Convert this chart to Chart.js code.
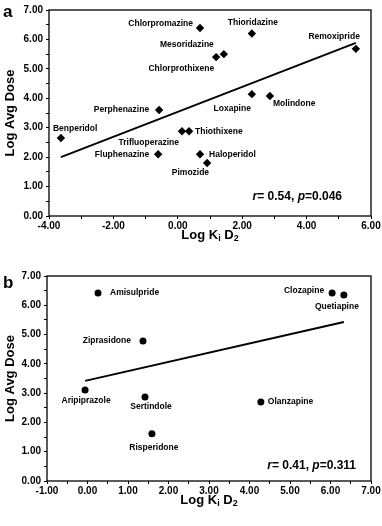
<!DOCTYPE html>
<html lang="en">
<head>
<meta charset="UTF-8">
<title>Log Avg Dose vs Log Ki D2</title>
<script src="https://cdn.jsdelivr.net/npm/chart.js@4.4.0/dist/chart.umd.min.js"></script>
<style>
  html, body { margin: 0; padding: 0; background: #fff; }
  .panel { position: absolute; left: 0; width: 382px; }
  #panelA { top: 0; height: 258px; }
  #panelB { top: 258px; height: 268px; }
</style>
</head>
<body>
<div class="panel" id="panelA"><canvas id="chartA" width="382" height="258"></canvas></div>
<div class="panel" id="panelB"><canvas id="chartB" width="382" height="268"></canvas></div>
<script>
// panel a - typical antipsychotics
const drugsA = ['Chlorpromazine', 'Thioridazine', 'Remoxipride', 'Chlorprothixene', 'Mesoridazine',
                'Loxapine', 'Molindone', 'Perphenazine', 'Benperidol', 'Trifluoperazine',
                'Thiothixene', 'Fluphenazine', 'Haloperidol', 'Pimozide'];
const kiA   = [0.69, 2.30, 5.53, 1.19, 1.43, 2.30, 2.86, -0.58, -3.63, 0.13, 0.35, -0.61, 0.69, 0.91];
const doseA = [6.39, 6.20, 5.68, 5.40, 5.50, 4.14, 4.08, 3.60, 2.65, 2.88, 2.88, 2.10, 2.10, 1.80];
const fitKiA   = [-3.63, 5.53];
const fitDoseA = [2.00, 5.88];
const statA = ['0.54', '0.046'];
const xTicksA = [-4, 6, 1];   // min, max, step

// panel b - atypical antipsychotics
const drugsB = ['Amisulpride', 'Clozapine', 'Quetiapine', 'Ziprasidone', 'Aripiprazole',
                'Sertindole', 'Olanzapine', 'Risperidone'];
const kiB   = [0.26, 6.04, 6.33, 1.37, -0.06, 1.42, 4.28, 1.59];
const doseB = [6.42, 6.42, 6.35, 4.78, 3.11, 2.87, 2.70, 1.61];
const fitKiB   = [-0.06, 6.33];
const fitDoseB = [3.42, 5.43];
const statB = ['0.41', '0.311'];
const xTicksB = [-1, 7, 0.5];

// where each name sits next to its marker (anchor, dx, dy in px)
const placeA = [['right', -7, -4], ['center', 1, -11], ['right', 4, -12], ['right', -2, 12], ['right', -10, -9],
                ['right', -1, 14], ['left', 3, 8], ['right', -10, 0], ['left', -8, -9], ['right', -3, 11],
                ['left', 6, 0], ['right', -9, 0], ['left', 9, 0], ['right', 2, 10]];
const placeB = [['left', 12, 0], ['right', -8, -2], ['right', 15, 12], ['right', -12, 0],
                ['center', 1, 11], ['center', 6, 10], ['left', 7, 0], ['center', 2, 14]];

const FONT = '"Liberation Sans", Arial, Helvetica, sans-serif';

const panelPlugin = {
  id: 'panelDeco',
  afterDatasetsDraw(chart, args, opts) {
    const ctx = chart.ctx;
    const area = chart.chartArea;
    const xs = chart.scales.x, ys = chart.scales.y;
    ctx.save();
    // frame
    ctx.strokeStyle = '#000';
    ctx.lineWidth = 1.3;
    ctx.strokeRect(area.left, area.top, area.right - area.left, area.bottom - area.top);

    // drug names
    ctx.fillStyle = '#000';
    ctx.font = 'bold 8.5px ' + FONT;
    ctx.textBaseline = 'middle';
    opts.names.forEach((name, i) => {
      const p = opts.place[i];
      ctx.textAlign = p[0];
      ctx.fillText(name, xs.getPixelForValue(opts.xv[i]) + p[1], ys.getPixelForValue(opts.yv[i]) + p[2]);
    });

    // r / p annotation
    const parts = [['r', true], ['= ' + opts.stat[0] + ', ', false], ['p', true], ['=' + opts.stat[1], false]];
    let w = 0;
    parts.forEach(pt => {
      ctx.font = (pt[1] ? 'italic ' : '') + 'bold 12px ' + FONT;
      w += ctx.measureText(pt[0]).width;
    });
    let x = area.right - opts.statRight - w;
    const y = area.bottom - opts.statUp;
    ctx.textAlign = 'left';
    parts.forEach(pt => {
      ctx.font = (pt[1] ? 'italic ' : '') + 'bold 12px ' + FONT;
      ctx.fillText(pt[0], x, y);
      x += ctx.measureText(pt[0]).width;
    });

    // x title: Log Ki D2 with subscripts
    const big = 'bold 13px ' + FONT, small = 'bold 9px ' + FONT;
    const tparts = [['Log K', big, 0], ['i', small, 4], [' D', big, 0], ['2', small, 4]];
    w = 0;
    tparts.forEach(pt => { ctx.font = pt[1]; w += ctx.measureText(pt[0]).width; });
    x = (area.left + area.right) / 2 - w / 2;
    const ty = area.bottom + 19;
    tparts.forEach(pt => {
      ctx.font = pt[1];
      ctx.fillText(pt[0], x, ty + pt[2]);
      x += ctx.measureText(pt[0]).width;
    });

    // y title
    ctx.save();
    ctx.translate(10, (area.top + area.bottom) / 2);
    ctx.rotate(-Math.PI / 2);
    ctx.textAlign = 'center';
    ctx.font = big;
    ctx.fillText('Log Avg Dose', 0, 0);
    ctx.restore();

    // panel letter
    ctx.font = 'bold 17px ' + FONT;
    ctx.textAlign = 'left';
    ctx.textBaseline = 'alphabetic';
    ctx.fillText(opts.letter, 3, opts.letterY);
    ctx.restore();
  }
};

function makePanel(id, o) {
  const pts = o.xv.map((v, i) => ({ x: v, y: o.yv[i] }));
  const fit = o.fitX.map((v, i) => ({ x: v, y: o.fitY[i] }));
  return new Chart(document.getElementById(id), {
    type: 'scatter',
    data: {
      datasets: [
        {
          data: pts,
          pointStyle: o.marker,
          pointRadius: o.radius,
          backgroundColor: '#000',
          borderColor: '#000',
          borderWidth: 0
        },
        {
          type: 'line',
          data: fit,
          showLine: true,
          pointRadius: 0,
          borderColor: '#000',
          borderWidth: 1.9,
          fill: false
        }
      ]
    },
    options: {
      responsive: false,
      animation: false,
      layout: { padding: { left: 0, right: 11, top: o.top, bottom: 0 } },
      plugins: {
        legend: { display: false },
        tooltip: { enabled: false },
        panelDeco: {
          names: o.names, xv: o.xv, yv: o.yv, place: o.place, stat: o.stat,
          statRight: o.statRight, statUp: o.statUp, letter: o.letter, letterY: o.letterY
        }
      },
      scales: {
        x: {
          type: 'linear',
          min: o.xt[0], max: o.xt[1],
          afterFit: s => { s.height = o.xh; },
          border: { display: false },
          grid: { drawOnChartArea: false, color: '#000', tickLength: 3, lineWidth: 1 },
          ticks: {
            stepSize: o.xt[2],
            autoSkip: false,
            maxRotation: 0,
            padding: 1,
            color: '#000',
            font: { family: FONT, size: 10, weight: 'bold' },
            callback: v => (Math.abs(v - Math.round(v)) < 1e-6 && Math.round(v) % o.xLab === 0) ? v.toFixed(2) : ''
          }
        },
        y: {
          type: 'linear',
          min: 0, max: 7,
          afterFit: s => { s.width = o.yw; },
          border: { display: false },
          grid: { drawOnChartArea: false, color: '#000', tickLength: 3, lineWidth: 1 },
          ticks: {
            stepSize: 0.5,
            autoSkip: false,
            padding: 3,
            color: '#000',
            font: { family: FONT, size: 10, weight: 'bold' },
            callback: v => Math.abs(v - Math.round(v)) < 1e-6 ? v.toFixed(2) : ''
          }
        }
      }
    },
    plugins: [panelPlugin]
  });
}

makePanel('chartA', {
  names: drugsA, xv: kiA, yv: doseA, place: placeA, fitX: fitKiA, fitY: fitDoseA, stat: statA,
  xt: xTicksA, xLab: 2, marker: 'rectRot', radius: 4.2,
  top: 10, xh: 42, yw: 49, statRight: 29, statUp: 19, letter: 'a', letterY: 17
});

makePanel('chartB', {
  names: drugsB, xv: kiB, yv: doseB, place: placeB, fitX: fitKiB, fitY: fitDoseB, stat: statB,
  xt: xTicksB, xLab: 1, marker: 'circle', radius: 3.5,
  top: 18, xh: 45, yw: 47, statRight: 15, statUp: 15, letter: 'b', letterY: 30
});
</script>
</body>
</html>
